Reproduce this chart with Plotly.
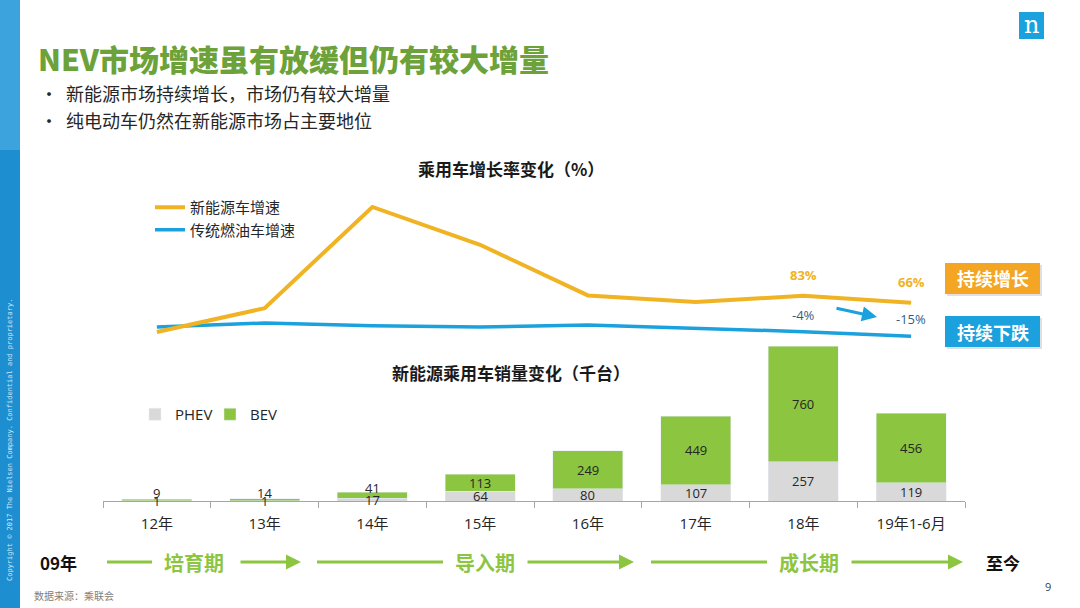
import plotly.graph_objects as go

# ---------------- data ----------------
categories = ["12年", "13年", "14年", "15年", "16年", "17年", "18年", "19年1-6月"]
phev = [1, 1, 17, 64, 80, 107, 257, 119]
bev = [9, 14, 41, 113, 249, 449, 760, 456]
nev_growth = [-5, 53, 299, 207, 84, 68, 83, 66]
ice_growth = [7, 17, 10, 7, 12, 5, -4, -15]
labelled_growth_idx = [6, 7]
stages = ["培育期", "导入期", "成长期"]
timeline_start, timeline_end = "09年", "至今"

title = "NEV市场增速虽有放缓但仍有较大增量"
bullets = ["新能源市场持续增长，市场仍有较大增量", "纯电动车仍然在新能源市场占主要地位"]
line_title = "乘用车增长率变化（%）"
bar_title = "新能源乘用车销量变化（千台）"

# ---------------- styling ----------------
W, H = 1080, 608
FONT = "Open Sans, Noto Sans CJK SC, sans-serif"
CJK = "Noto Sans CJK SC, sans-serif"
GREEN = "#8cc540"
GRAY = "#d9d9d9"
ORANGE = "#f0b323"
BLUE = "#1ba1dd"
TITLE_GREEN = "#6da23a"


def px(x):
    return x / W


def py(y):
    return 1 - y / H


fig = go.Figure()

fig.add_trace(go.Bar(x=categories, y=phev, name="PHEV", marker_color=GRAY,
                     width=0.65, legend="legend2", xaxis="x", yaxis="y"))
fig.add_trace(go.Bar(x=categories, y=bev, name="BEV", marker_color=GREEN,
                     width=0.65, legend="legend2", xaxis="x", yaxis="y"))
fig.add_trace(go.Scatter(x=categories, y=ice_growth, mode="lines", name="传统燃油车增速",
                         line=dict(color=BLUE, width=3.5), xaxis="x2", yaxis="y2",
                         legend="legend", legendrank=2))
fig.add_trace(go.Scatter(x=categories, y=nev_growth, mode="lines", name="新能源车增速",
                         line=dict(color=ORANGE, width=4), xaxis="x2", yaxis="y2",
                         legend="legend", legendrank=1))

ann = []
shapes = []

# bar value labels
for i, c in enumerate(categories):
    ann.append(dict(x=c, y=phev[i] / 2, xref="x", yref="y", text=str(phev[i]),
                    showarrow=False, font=dict(size=13, color="#262626")))
    ann.append(dict(x=c, y=phev[i] + bev[i] / 2, xref="x", yref="y", text=str(bev[i]),
                    showarrow=False, yshift=7 if bev[i] < 60 else 0,
                    font=dict(size=13, color="#262626")))

# growth labels
for i in labelled_growth_idx:
    ann.append(dict(x=categories[i], y=nev_growth[i], xref="x2", yref="y2",
                    text=f"{nev_growth[i]}%", showarrow=False, yshift=21,
                    font=dict(size=13, color=ORANGE, weight="bold")))
    ann.append(dict(x=categories[i], y=ice_growth[i], xref="x2", yref="y2",
                    text=f"{ice_growth[i]}%", showarrow=False, yshift=17,
                    font=dict(size=13, color="#2f5f86")))
# trend arrow
ann.append(dict(x=px(877), y=py(317), xref="paper", yref="paper", ax=-42, ay=-9,
                axref="pixel", ayref="pixel", text="", showarrow=True,
                arrowhead=2, arrowsize=1, arrowwidth=3, arrowcolor=BLUE))

# side boxes
for (y0, y1, col, txt) in [(263, 294, "#f5a524", "持续增长"), (316, 347, BLUE, "持续下跌")]:
    shapes.append(dict(type="rect", xref="paper", yref="paper", x0=px(947), x1=px(1042),
                       y0=py(y1 + 2), y1=py(y0 + 2), fillcolor="rgba(0,0,0,0.12)", line_width=0, layer="below"))
    shapes.append(dict(type="rect", xref="paper", yref="paper", x0=px(945), x1=px(1040),
                       y0=py(y1), y1=py(y0), fillcolor=col, line_width=0))
    ann.append(dict(x=px(992.5), y=py((y0 + y1) / 2), xref="paper", yref="paper", text=txt,
                    showarrow=False, font=dict(size=18, color="white", family=CJK, weight="bold")))

# titles
ann.append(dict(x=px(36), y=py(58), xref="paper", yref="paper", text=title, showarrow=False,
                xanchor="left",
                font=dict(size=30, color=TITLE_GREEN, family=CJK, weight=900)))
for k, b in enumerate(bullets):
    ann.append(dict(x=px(38), y=py(93 + 27 * k), xref="paper", yref="paper",
                    text="•  " + b, showarrow=False, xanchor="left",
                    font=dict(size=18, color="#262626", family=CJK)))
ann.append(dict(x=px(511), y=py(168), xref="paper", yref="paper", text=line_title,
                showarrow=False, font=dict(size=17, color="#1a1a1a", family=CJK, weight="bold")))
ann.append(dict(x=px(511), y=py(372), xref="paper", yref="paper", text=bar_title,
                showarrow=False, font=dict(size=17, color="#1a1a1a", family=CJK, weight="bold")))

# timeline
TY = 562
ann.append(dict(x=px(58), y=py(TY), xref="paper", yref="paper", text=timeline_start,
                showarrow=False, font=dict(size=17, color="#111", family=CJK, weight="bold")))
ann.append(dict(x=px(1003), y=py(TY), xref="paper", yref="paper", text=timeline_end,
                showarrow=False, font=dict(size=17, color="#111", family=CJK, weight="bold")))
segs = [(107, 152, 194, 239, 301), (317, 443, 485, 526, 634), (651, 767, 809, 850, 963)]
for (a0, a1, tc, b0, b1), st in zip(segs, stages):
    shapes.append(dict(type="line", xref="paper", yref="paper", x0=px(a0), x1=px(a1),
                       y0=py(TY), y1=py(TY), line=dict(color=GREEN, width=3)))
    ann.append(dict(x=px(tc), y=py(TY), xref="paper", yref="paper", text=st, showarrow=False,
                    font=dict(size=20, color=GREEN, family=CJK, weight="bold")))
    ann.append(dict(x=px(b1), y=py(TY), xref="paper", yref="paper", ax=-(b1 - b0), ay=0,
                    axref="pixel", ayref="pixel", text="", showarrow=True,
                    arrowhead=2, arrowsize=1, arrowwidth=3, arrowcolor=GREEN))

# footer
ann.append(dict(x=px(32), y=py(595), xref="paper", yref="paper", text="数据来源：乘联会",
                showarrow=False, xanchor="left", font=dict(size=10, color="#808080", family=CJK)))
ann.append(dict(x=px(1048), y=py(586), xref="paper", yref="paper", text="9",
                showarrow=False, font=dict(size=11, color="#404040")))

# left strip + copyright
shapes.append(dict(type="rect", xref="paper", yref="paper", x0=0, x1=px(20), y0=0, y1=1,
                   fillcolor="#1d8fd1", line_width=0))
shapes.append(dict(type="rect", xref="paper", yref="paper", x0=0, x1=px(20), y0=py(150), y1=1,
                   fillcolor="rgba(120,200,240,0.35)", line_width=0))
ann.append(dict(x=px(10), y=py(440), xref="paper", yref="paper",
                text="Copyright © 2017 The Nielsen Company. Confidential and proprietary.",
                showarrow=False, textangle=-90,
                font=dict(size=7, color="rgba(255,255,255,0.8)", family="DejaVu Sans Mono, monospace")))

# logo
shapes.append(dict(type="rect", xref="paper", yref="paper", x0=px(1019), x1=px(1044),
                   y0=py(39), y1=py(12), fillcolor="#1ba1dd", line_width=0))
ann.append(dict(x=px(1031.5), y=py(25), xref="paper", yref="paper", text="n", showarrow=False,
                font=dict(size=24, color="white", family="DejaVu Serif, serif")))

for a in ann:
    a.setdefault("xanchor", "center")
    a.setdefault("yanchor", "middle")

fig.update_layout(
    width=W, height=H, margin=dict(l=0, r=0, t=0, b=0),
    paper_bgcolor="white", plot_bgcolor="rgba(0,0,0,0)",
    font=dict(family=FONT, color="#262626"),
    barmode="stack", bargap=0.35,
    xaxis=dict(domain=[px(103), px(965)], type="category", range=[-0.5, 7.5],
               showline=True, linecolor="#a6a6a6", linewidth=1, ticks="outside",
               tickson="boundaries", ticklen=6, tickcolor="#a6a6a6", showgrid=False,
               tickfont=dict(size=15, color="#262626", family=FONT), ticklabelstandoff=9,
               anchor="y", fixedrange=True),
    yaxis=dict(domain=[py(501), py(341)], range=[0, 160 / 0.1524], visible=False,
               anchor="x", fixedrange=True),
    xaxis2=dict(domain=[px(103), px(965)], type="category", range=[-0.5, 7.5],
                visible=False, anchor="y2"),
    yaxis2=dict(domain=[py(345), py(195)], range=[-36.5, 328], visible=False, anchor="x2"),
    legend=dict(x=px(150), y=py(191), xanchor="left", yanchor="top", orientation="v",
                font=dict(size=15, color="#262626", family=CJK), bgcolor="rgba(0,0,0,0)",
                itemwidth=30, tracegroupgap=0),
    legend2=dict(x=px(135), y=py(398), xanchor="left", yanchor="top", orientation="h",
                 traceorder="normal", entrywidth=30, entrywidthmode="pixels",
                 font=dict(size=15, color="#262626", family=FONT), bgcolor="rgba(0,0,0,0)"),
    showlegend=True,
    annotations=ann, shapes=shapes,
)

fig.write_html("out.html")
